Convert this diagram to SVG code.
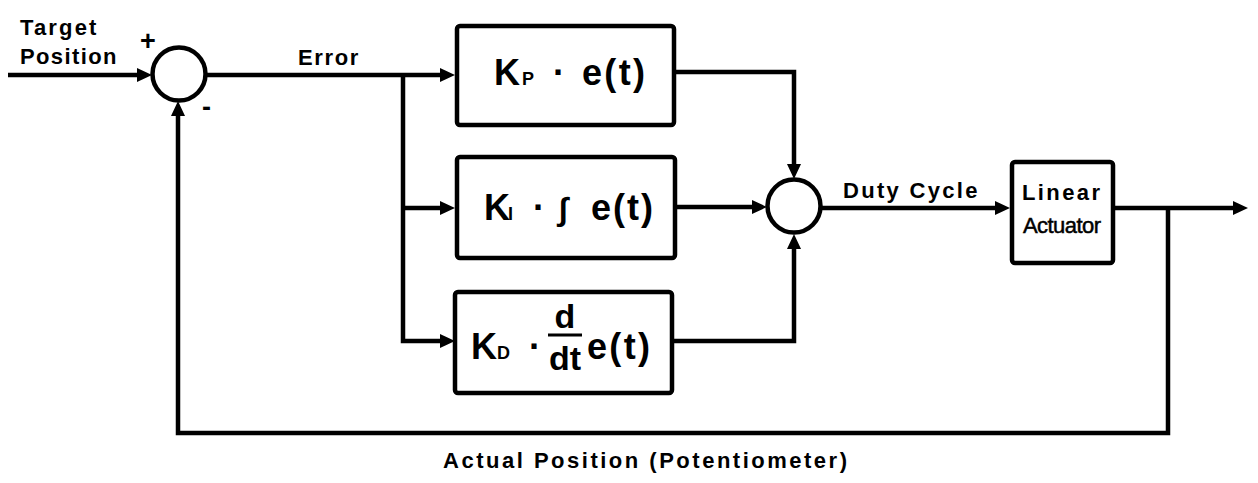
<svg xmlns="http://www.w3.org/2000/svg" width="1258" height="483" viewBox="0 0 1258 483">
<style>
.ln{fill:none;stroke:#000;stroke-width:4.5;stroke-linejoin:miter}
.bx{fill:#fff;stroke:#000;stroke-width:4.5}
.t{font-family:"Liberation Sans",Arial,sans-serif;font-weight:bold;fill:#000}
.lbl{font-size:22px;letter-spacing:1.6px}
.big{font-size:36px}
.sub{font-size:18px}
</style>
<defs>
<marker id="ah" markerUnits="userSpaceOnUse" markerWidth="16" markerHeight="16" refX="5" refY="7" orient="auto">
<path d="M0,0 L15,7 L0,14 z" fill="#000"/>
</marker>
</defs>
<g id="connectors">
<line class="ln" x1="8" y1="75" x2="142" y2="75" marker-end="url(#ah)"/>
<line class="ln" x1="206" y1="75" x2="445" y2="75" marker-end="url(#ah)"/>
<polyline class="ln" points="403,75 403,341 445,341" marker-end="url(#ah)"/>
<line class="ln" x1="403" y1="208" x2="445" y2="208" marker-end="url(#ah)"/>
<polyline class="ln" points="675,72 794,72 794,169" marker-end="url(#ah)"/>
<line class="ln" x1="675" y1="207" x2="757" y2="207" marker-end="url(#ah)"/>
<polyline class="ln" points="672,341 794,341 794,244" marker-end="url(#ah)"/>
<line class="ln" x1="821" y1="208" x2="1000" y2="208" marker-end="url(#ah)"/>
<line class="ln" x1="1113" y1="208" x2="1238" y2="208" marker-end="url(#ah)"/>
<polyline class="ln" points="1168,208 1168,433 178,433 178,111" marker-end="url(#ah)"/>
</g>
<g id="sum1">
<circle cx="179" cy="74" r="26.5" class="bx"/>
<text class="t" x="140" y="50" font-size="27">+</text>
<text class="t" x="202" y="116" font-size="27">-</text>
</g>
<g id="labels">
<text class="t lbl" x="20" y="35" textLength="78">Target</text>
<text class="t lbl" x="20" y="64" textLength="98">Position</text>
<text class="t lbl" x="298" y="65" textLength="62">Error</text>
<text class="t lbl" x="843" y="198" textLength="136">Duty Cycle</text>
<text class="t" x="443" y="468" font-size="22" textLength="404">Actual Position (Potentiometer)</text>
</g>
<g id="box-p">
<rect x="457" y="26" width="217" height="99" rx="3" class="bx"/>
<text class="t big" x="494" y="85">K</text>
<text class="t sub" x="522" y="85">P</text>
<text class="t big" x="553" y="85">·</text>
<text class="t big" x="582" y="85" textLength="63">e(t)</text>
</g>
<g id="box-i">
<rect x="457" y="157" width="218" height="101" rx="3" class="bx"/>
<text class="t big" x="484" y="220">K</text>
<text class="t sub" x="508" y="220">I</text>
<text class="t big" x="533" y="220">·</text>
<text class="t" x="559" y="220" font-size="32" font-weight="normal">∫</text>
<text class="t big" x="591" y="220" textLength="62">e(t)</text>
</g>
<g id="box-d">
<rect x="455" y="292" width="217" height="101" rx="3" class="bx"/>
<text class="t big" x="471" y="359">K</text>
<text class="t sub" x="497" y="359">D</text>
<text class="t big" x="529" y="359">·</text>
<text class="t" x="565" y="328" font-size="34" text-anchor="middle">d</text>
<line x1="548" y1="335" x2="582" y2="335" stroke="#000" stroke-width="3"/>
<text class="t" x="565" y="370" font-size="34" text-anchor="middle">dt</text>
<text class="t big" x="587" y="359" textLength="63">e(t)</text>
</g>
<g id="sum2">
<circle cx="794" cy="206" r="26.5" class="bx"/>
</g>
<g id="actuator">
<rect x="1012" y="162" width="101" height="101" rx="3" class="bx"/>
<text class="t" x="1022" y="200" font-size="22" textLength="78">Linear</text>
<text class="t" x="1023" y="233" font-size="22" textLength="78" style="font-weight:normal" stroke="#000" stroke-width="0.5">Actuator</text>
</g>
</svg>
